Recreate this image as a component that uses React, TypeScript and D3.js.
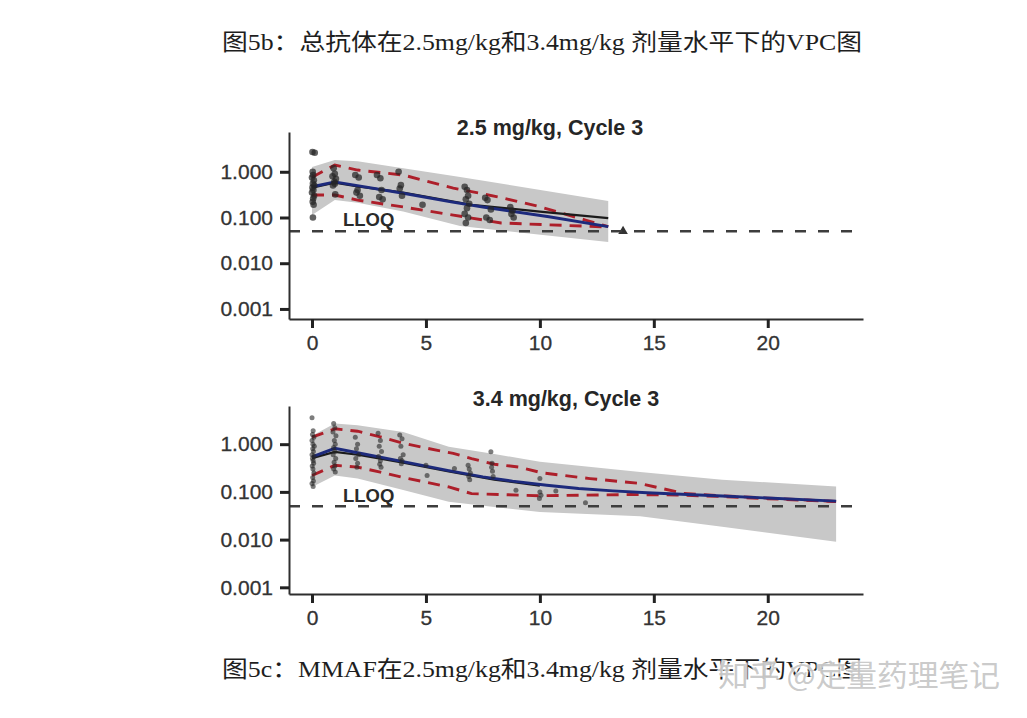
import React, { useEffect, useRef } from "react";
import * as d3 from "d3";

const W = 1027;
const H = 718;

const CAPTION_TOP = "图5b：总抗体在2.5mg/kg和3.4mg/kg 剂量水平下的VPC图";
const CAPTION_BOTTOM = "图5c：MMAF在2.5mg/kg和3.4mg/kg 剂量水平下的VPC图";
const WATERMARK = "知乎 @定量药理笔记";

const xTickValues = [0, 5, 10, 15, 20];
const yTickValues = [0.001, 0.01, 0.1, 1];
const LLOQ = 0.05;

// ---- 2.5 mg/kg, Cycle 3 (total antibody) ----
const bandTime25 = [0, 1, 2, 4, 6.5, 13];
const bandLow25 = [0.113, 0.24, 0.21, 0.135, 0.065, 0.029];
const bandHigh25 = [1.27, 1.8, 1.7, 1.2, 0.77, 0.23];

const piHighTime25 = [0, 1, 2, 4, 6.2, 8.2, 10, 12, 13];
const piHigh25 = [0.76, 1.4, 1.09, 0.85, 0.44, 0.28, 0.172, 0.088, 0.063];
const piLowTime25 = [0, 1, 2, 4, 6.2, 8.3, 10.4, 13];
const piLow25 = [0.31, 0.31, 0.24, 0.17, 0.113, 0.076, 0.069, 0.062];

const predTime25 = [0, 1, 4, 6.1, 7.5, 10.4, 13];
const pred25 = [0.47, 0.6, 0.34, 0.22, 0.17, 0.104, 0.063];
const obsMedTime25 = [0, 1, 2, 4, 7, 10, 13];
const obsMed25 = [0.45, 0.58, 0.48, 0.35, 0.19, 0.134, 0.097];

const obsTime25 = [
  0.02, 0.12, 0.03, 0.05, 0.0, 0.08, 0.04, 0.1, 0.02, 0.06, 0.0, 0.09, 0.05, 0.03, 0.07, 0.04,
  0.95, 1.0, 0.9, 1.05, 0.98, 1.0, 0.92, 1.02,
  1.9, 2.05, 2.0, 1.95, 2.1,
  2.85, 3.0, 3.05, 2.95, 3.1,
  3.8, 3.9, 3.85, 3.95,
  4.85,
  6.7, 6.8, 6.85, 6.75, 6.9, 6.8, 6.7, 6.85, 6.75,
  7.6, 7.7, 7.85, 7.65, 7.8,
  8.7, 8.8, 8.75, 8.85,
];
const obsConc25 = [
  2.7, 2.6, 1.0, 0.85, 0.75, 0.65, 0.55, 0.5, 0.45, 0.4, 0.35, 0.3, 0.26, 0.22, 0.19, 0.1,
  1.2, 0.9, 0.8, 0.7, 0.6, 0.55, 0.5, 0.32,
  0.85, 0.75, 0.4, 0.35, 0.3,
  0.85, 0.72, 0.4, 0.28, 0.25,
  1.0, 0.51, 0.43, 0.3,
  0.19,
  0.47, 0.4, 0.3, 0.25, 0.2, 0.16, 0.12, 0.1, 0.076,
  0.27, 0.24, 0.15, 0.1, 0.088,
  0.17, 0.14, 0.12, 0.1,
];
const blqTime25 = [13.65];
const blqConc25 = [0.05];

// ---- 3.4 mg/kg, Cycle 3 (MMAF) ----
const bandTime34 = [0, 1, 2, 4, 6, 8, 10, 14.4, 18, 23];
const bandLow34 = [0.126, 0.22, 0.19, 0.11, 0.062, 0.048, 0.038, 0.031, 0.0187, 0.009];
const bandHigh34 = [1.5, 2.7, 2.5, 1.8, 0.88, 0.62, 0.43, 0.26, 0.18, 0.13];

const piHighTime34 = [0, 1, 2, 3, 4, 5.1, 6.2, 7, 8, 9.1, 10.1, 12.2, 14.4, 16.3, 18, 20, 23];
const piHigh34 = [1.4, 2.1, 1.87, 1.42, 1.05, 0.81, 0.64, 0.5, 0.38, 0.33, 0.25, 0.19, 0.15, 0.093, 0.083, 0.074, 0.063];
const piLowTime34 = [0, 1, 2, 3, 4, 5, 6, 7, 10, 14, 16, 18, 20, 23];
const piLow34 = [0.22, 0.36, 0.33, 0.26, 0.2, 0.16, 0.127, 0.092, 0.083, 0.088, 0.086, 0.08, 0.072, 0.063];

const predTime34 = [0, 1, 2, 4, 6, 7.5, 8.8, 10.3, 11.7, 13.2, 14.7, 18, 23];
const pred34 = [0.54, 0.82, 0.66, 0.43, 0.28, 0.206, 0.168, 0.138, 0.118, 0.105, 0.096, 0.082, 0.064];
const obsMedTime34 = [0, 1, 2, 4, 6, 8, 10];
const obsMed34 = [0.51, 0.69, 0.6, 0.41, 0.27, 0.18, 0.135];

const obsTime34 = [
  0.0, 0.05, 0.02, 0.08, 0.0, 0.04, 0.1, 0.03, 0.06, 0.0, 0.09, 0.02, 0.05, 0.07, 0.01, 0.04, 0.08, 0.03, 0.06, 0.0, 0.05,
  0.95, 1.0, 0.92, 1.05, 0.98, 1.02, 0.95, 1.0, 0.93, 1.04, 0.97, 1.0, 0.95, 1.02,
  1.9, 2.0, 1.95, 2.05, 1.92, 2.0, 1.97,
  2.9, 3.0, 2.95, 3.05, 2.92, 3.0, 2.97, 3.03,
  3.85, 3.95, 3.9, 4.0, 3.88, 3.95, 3.92,
  5.0, 5.05,
  6.25,
  6.85, 6.9, 6.95, 6.88, 6.92,
  7.85, 7.9, 7.88, 7.92, 7.95,
  8.95,
  10.0, 10.0, 10.05, 9.98,
  10.7,
  12.0,
];
const obsConc34 = [
  3.6, 1.9, 1.6, 1.4, 1.2, 1.0, 0.9, 0.8, 0.7, 0.6, 0.55, 0.5, 0.45, 0.4, 0.35, 0.3, 0.25, 0.2, 0.17, 0.15, 0.13,
  2.7, 2.2, 1.8, 1.5, 1.2, 1.0, 0.85, 0.7, 0.6, 0.5, 0.42, 0.35, 0.3, 0.26,
  1.4, 1.0, 0.8, 0.6, 0.5, 0.4, 0.33,
  1.7, 1.2, 0.9, 0.7, 0.55, 0.45, 0.38, 0.33,
  1.55, 1.3, 0.9, 0.6, 0.5, 0.45, 0.39,
  0.36, 0.22,
  0.31,
  0.36, 0.3, 0.25, 0.21, 0.18,
  0.69, 0.4, 0.33, 0.27, 0.21,
  0.108,
  0.19, 0.1, 0.085, 0.073,
  0.104,
  0.059,
];

type Pt = [number, number];
const zip = (a: number[], b: number[]): Pt[] => a.map((v, i) => [v, b[i]] as Pt);

interface PanelSpec {
  title: string;
  titleX: number;
  titleY: number;
  left: number;
  right: number;
  top: number;
  bottom: number;
  logMin: number;
  logMax: number;
  lloqLabelY: number;
  bandTime: number[];
  bandLow: number[];
  bandHigh: number[];
  piHigh: Pt[];
  piLow: Pt[];
  pred: Pt[];
  obsMed: Pt[];
  obs: Pt[];
  blq: Pt[];
  dotR: number;
  dotOpacity: number;
}

const panels: PanelSpec[] = [
  {
    title: "2.5 mg/kg, Cycle 3",
    titleX: 550,
    titleY: 135,
    left: 289,
    right: 863,
    top: 132,
    bottom: 319,
    logMin: -3.22,
    logMax: 0.87,
    lloqLabelY: 226,
    bandTime: bandTime25,
    bandLow: bandLow25,
    bandHigh: bandHigh25,
    piHigh: zip(piHighTime25, piHigh25),
    piLow: zip(piLowTime25, piLow25),
    pred: zip(predTime25, pred25),
    obsMed: zip(obsMedTime25, obsMed25),
    obs: zip(obsTime25, obsConc25),
    blq: zip(blqTime25, blqConc25),
    dotR: 3.3,
    dotOpacity: 0.72,
  },
  {
    title: "3.4 mg/kg, Cycle 3",
    titleX: 566,
    titleY: 406,
    left: 289,
    right: 863,
    top: 406,
    bottom: 594,
    logMin: -3.14,
    logMax: 0.8,
    lloqLabelY: 502,
    bandTime: bandTime34,
    bandLow: bandLow34,
    bandHigh: bandHigh34,
    piHigh: zip(piHighTime34, piHigh34),
    piLow: zip(piLowTime34, piLow34),
    pred: zip(predTime34, pred34),
    obsMed: zip(obsMedTime34, obsMed34),
    obs: zip(obsTime34, obsConc34),
    blq: [],
    dotR: 2.5,
    dotOpacity: 0.6,
  },
];

const SANS = "'Liberation Sans', Arial, Helvetica, sans-serif";

function VpcPanel({ p }: { p: PanelSpec }) {
  const xAxisRef = useRef<SVGGElement>(null);
  const yAxisRef = useRef<SVGGElement>(null);

  const x = d3.scaleLinear().domain([-1.01, 24.18]).range([p.left, p.right]);
  const y = d3
    .scaleLog()
    .domain([10 ** p.logMin, 10 ** p.logMax])
    .range([p.bottom, p.top]);

  useEffect(() => {
    const fmt = d3.format(".3f");
    const gx = d3.select(xAxisRef.current as SVGGElement);
    gx.call(
      d3
        .axisBottom(x)
        .tickValues(xTickValues)
        .tickSize(9)
        .tickPadding(7)
        .tickSizeOuter(0)
        .tickFormat(d3.format("d") as any)
    );
    const gy = d3.select(yAxisRef.current as SVGGElement);
    gy.call(
      d3
        .axisLeft(y)
        .tickValues(yTickValues)
        .tickSize(9)
        .tickPadding(7)
        .tickSizeOuter(0)
        .tickFormat((v: any) => fmt(v))
    );
    [gx, gy].forEach((g) => {
      g.select(".domain").attr("stroke", "#2e2e2e").attr("stroke-width", 2);
      g.selectAll(".tick line").attr("stroke", "#222").attr("stroke-width", 3);
      g.selectAll(".tick text")
        .attr("fill", "#333")
        .attr("font-size", 21)
        .attr("font-family", SANS)
        .attr("stroke", "#333")
        .attr("stroke-width", 0.3);
    });
  }, []);

  const bandRows = p.bandTime.map((t, i) => [t, p.bandLow[i], p.bandHigh[i]] as [number, number, number]);
  const area = d3
    .area<[number, number, number]>()
    .x((d) => x(d[0]))
    .y0((d) => y(d[1]))
    .y1((d) => y(d[2]));
  const line = d3
    .line<Pt>()
    .x((d) => x(d[0]))
    .y((d) => y(d[1]));
  const tri = d3.symbol().type(d3.symbolTriangle).size(40);

  return (
    <g>
      <path d={area(bandRows) || ""} fill="#c8c8c8" />
      <path d={line(p.piHigh) || ""} fill="none" stroke="#ad1f2a" strokeWidth={2.9} strokeDasharray="12 8" />
      <path d={line(p.piLow) || ""} fill="none" stroke="#ad1f2a" strokeWidth={2.9} strokeDasharray="12 8" />
      <path d={line(p.obsMed) || ""} fill="none" stroke="#1b1b1b" strokeWidth={2.2} />
      <path d={line(p.pred) || ""} fill="none" stroke="#1d2a7c" strokeWidth={2.9} />
      {p.obs.map((d, i) => (
        <circle key={i} cx={x(d[0])} cy={y(d[1])} r={p.dotR} fill="#262626" fillOpacity={p.dotOpacity} />
      ))}
      {p.blq.map((d, i) => (
        <path key={"b" + i} d={tri() || ""} transform={`translate(${x(d[0])},${y(d[1])})`} fill="#333" />
      ))}
      <line
        x1={p.left}
        x2={p.right}
        y1={y(LLOQ)}
        y2={y(LLOQ)}
        stroke="#3d3d3d"
        strokeWidth={2.6}
        strokeDasharray="11 12"
      />
      <text x={343} y={p.lloqLabelY} fontFamily={SANS} fontWeight="bold" fontSize={18.5} fill="#2a2a2a">
        LLOQ
      </text>
      <g ref={xAxisRef} transform={`translate(0,${p.bottom})`} />
      <g ref={yAxisRef} transform={`translate(${p.left},0)`} />
      <text
        x={p.titleX}
        y={p.titleY}
        textAnchor="middle"
        fontFamily={SANS}
        fontWeight="bold"
        fontSize={21.5}
        fill="#262626"
      >
        {p.title}
      </text>
    </g>
  );
}

export default function App() {
  const captionFont = "'Liberation Serif', 'Times New Roman', 'Noto Sans CJK SC', serif";
  return (
    <div style={{ position: "absolute", left: 0, top: 0 }}>
      <svg width={W} height={H} style={{ display: "block", background: "#fff" }}>
        <text
          x={222}
          y={50}
          fontFamily={captionFont}
          fontSize={23}
          fill="#1e1e1e"
          textLength={640}
          lengthAdjust="spacingAndGlyphs"
        >
          {CAPTION_TOP}
        </text>
        {panels.map((p, i) => (
          <VpcPanel key={i} p={p} />
        ))}
        <text
          x={222}
          y={677}
          fontFamily={captionFont}
          fontSize={23}
          fill="#1e1e1e"
          textLength={640}
          lengthAdjust="spacingAndGlyphs"
        >
          {CAPTION_BOTTOM}
        </text>
        <text
          x={718}
          y={686}
          fontFamily="'Noto Sans CJK SC', sans-serif"
          fontSize={30}
          fill="#c4c4c4"
          fillOpacity={0.9}
          stroke="#ffffff"
          strokeOpacity={0.75}
          strokeWidth={3}
          style={{ paintOrder: "stroke" }}
          textLength={282}
          lengthAdjust="spacingAndGlyphs"
        >
          {WATERMARK}
        </text>
      </svg>
    </div>
  );
}
